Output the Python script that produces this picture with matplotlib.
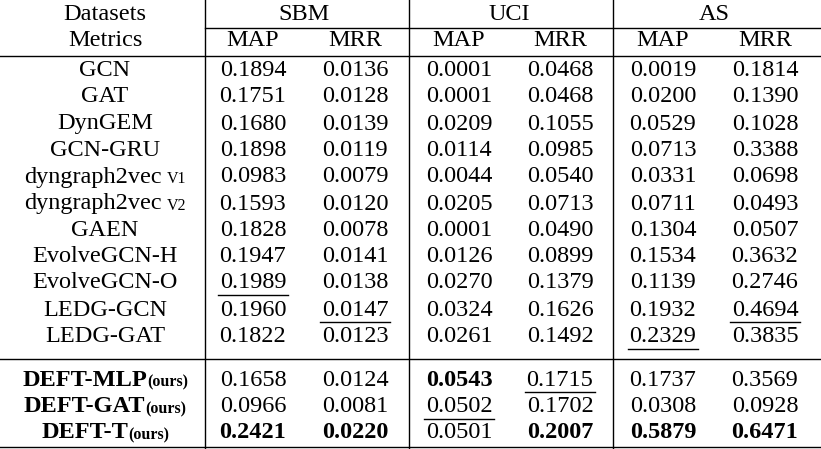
import matplotlib
matplotlib.use("Agg")
import matplotlib.pyplot as plt

methods = ["GCN", "GAT", "DynGEM", "GCN-GRU", "dyngraph2vec", "dyngraph2vec", "GAEN",
           "EvolveGCN-H", "EvolveGCN-O", "LEDG-GCN", "LEDG-GAT",
           "DEFT-MLP", "DEFT-GAT", "DEFT-T"]
suffixes = ["", "", "", "", "V1", "V2", "", "", "", "", "", "(ours)", "(ours)", "(ours)"]
sbm_map = ["0.1894", "0.1751", "0.1680", "0.1898", "0.0983", "0.1593", "0.1828", "0.1947", "0.1989", "0.1960", "0.1822", "0.1658", "0.0966", "0.2421"]
sbm_mrr = ["0.0136", "0.0128", "0.0139", "0.0119", "0.0079", "0.0120", "0.0078", "0.0141", "0.0138", "0.0147", "0.0123", "0.0124", "0.0081", "0.0220"]
uci_map = ["0.0001", "0.0001", "0.0209", "0.0114", "0.0044", "0.0205", "0.0001", "0.0126", "0.0270", "0.0324", "0.0261", "0.0543", "0.0502", "0.0501"]
uci_mrr = ["0.0468", "0.0468", "0.1055", "0.0985", "0.0540", "0.0713", "0.0490", "0.0899", "0.1379", "0.1626", "0.1492", "0.1715", "0.1702", "0.2007"]
as_map = ["0.0019", "0.0200", "0.0529", "0.0713", "0.0331", "0.0711", "0.1304", "0.1534", "0.1139", "0.1932", "0.2329", "0.1737", "0.0308", "0.5879"]
as_mrr = ["0.1814", "0.1390", "0.1028", "0.3388", "0.0698", "0.0493", "0.0507", "0.3632", "0.2746", "0.4694", "0.3835", "0.3569", "0.0928", "0.6471"]
columns = [sbm_map, sbm_mrr, uci_map, uci_mrr, as_map, as_mrr]
# (row, col) emphasis
bold_cells = [(11, 2), (13, 0), (13, 1), (13, 3), (13, 4), (13, 5)]
underline_cells = [(8, 0), (9, 1), (9, 5), (10, 4), (11, 3), (12, 2)]

W, H = 821, 449
fig = plt.figure(figsize=(W / 100, H / 100), dpi=100)
ax = fig.add_axes([0, 0, 1, 1])
ax.set_xlim(0, W); ax.set_ylim(H, 0); ax.axis("off")
FONT = "Liberation Serif"
fs = 17.5

col_x = [253, 355, 459, 560, 663, 765]
name_x = 105
row_y = [70, 97, 124, 150, 177, 204, 230, 257, 283, 310, 337, 380, 407, 433]

ax.text(name_x, 14, "Datasets", ha="center", va="center", fontsize=fs, family=FONT)
ax.text(name_x, 41, "Metrics", ha="center", va="center", fontsize=fs, family=FONT)
for i, g in enumerate(["SBM", "UCI", "AS"]):
    ax.text((col_x[2*i] + col_x[2*i+1]) / 2, 14, g, ha="center", va="center", fontsize=fs, family=FONT)
    ax.text(col_x[2*i], 41, "MAP", ha="center", va="center", fontsize=fs, family=FONT)
    ax.text(col_x[2*i+1], 41, "MRR", ha="center", va="center", fontsize=fs, family=FONT)

fig.canvas.draw()
r = fig.canvas.get_renderer()
for ri, (m, s) in enumerate(zip(methods, suffixes)):
    y = row_y[ri]
    bold = ri >= 11
    w = "bold" if bold else "normal"
    t1 = ax.text(0, y, m, ha="left", va="center", fontsize=fs, family=FONT, weight=w)
    t2 = ax.text(0, y + 2, s, ha="left", va="center", fontsize=11.5, family=FONT, weight=w) if s else None
    w1 = t1.get_window_extent(r).width
    gap = 5 if not bold else 0
    w2 = t2.get_window_extent(r).width + gap if t2 else 0
    x0 = name_x - (w1 + w2) / 2
    t1.set_x(x0)
    if t2:
        t2.set_x(x0 + w1 + gap)
    for ci, col in enumerate(columns):
        cw = "bold" if (ri, ci) in bold_cells else "normal"
        ax.text(col_x[ci], y, col[ri], ha="center", va="center", fontsize=fs, family=FONT, weight=cw)
        if (ri, ci) in underline_cells:
            ax.plot([col_x[ci] - 35, col_x[ci] + 35], [y + 11.5, y + 11.5], color="black", lw=1)

lk = dict(color="black", lw=1.0)
for x in [205, 409, 613]:
    ax.plot([x, x], [0, H], **lk)
ax.plot([205, W], [28, 28], **lk)
ax.plot([0, W], [56, 56], **lk)
ax.plot([0, W], [359, 359], **lk)
ax.plot([0, W], [447, 447], **lk)
fig.savefig("out.png", dpi=100)
